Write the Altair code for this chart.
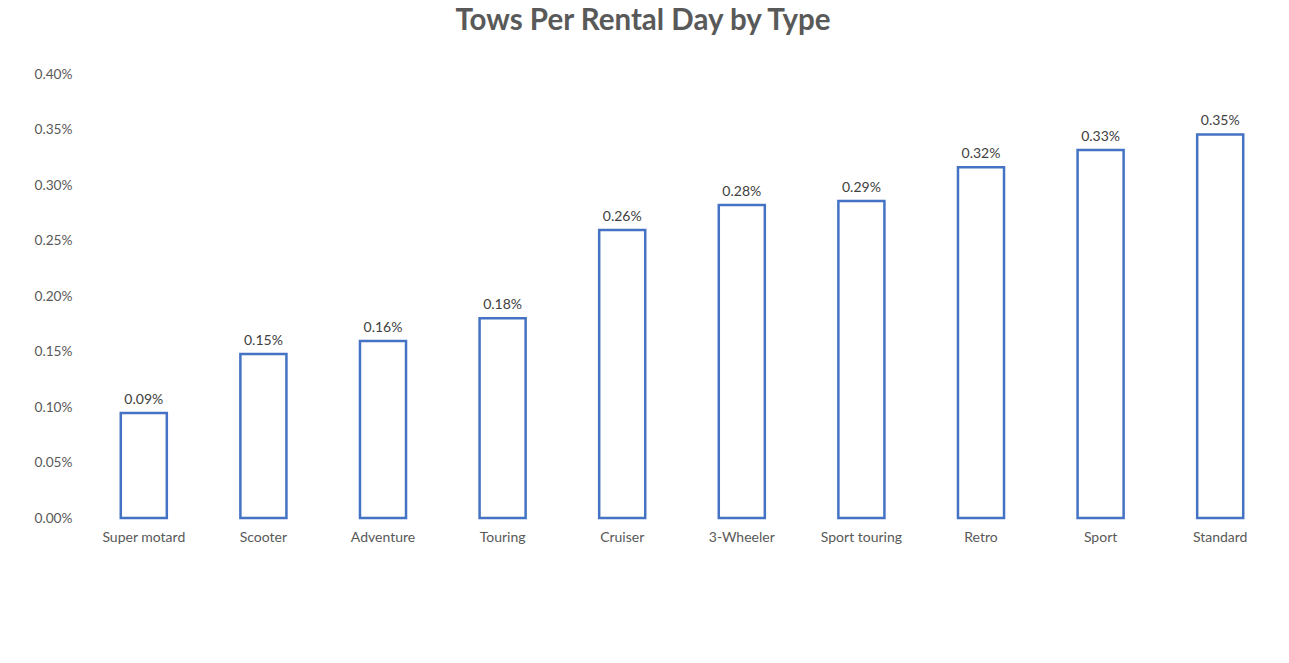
import altair as alt
import pandas as pd

categories = ["Super motard", "Scooter", "Adventure", "Touring", "Cruiser",
              "3-Wheeler", "Sport touring", "Retro", "Sport", "Standard"]
values = [0.000946, 0.001478, 0.001595, 0.00180, 0.002595,
          0.00282, 0.002855, 0.00316, 0.003315, 0.003455]
y_ticks = [0, 0.0005, 0.001, 0.0015, 0.002, 0.0025, 0.003, 0.0035, 0.004]

df = pd.DataFrame({"type": categories, "rate": values})

base = alt.Chart(df).encode(
    x=alt.X("type:N", sort=categories, title=None,
            scale=alt.Scale(paddingInner=0.615, paddingOuter=0.3075),
            axis=alt.Axis(labelAngle=0, domain=False, ticks=False, labelPadding=12,
                          labelFont="Lato", labelFontSize=14, labelColor="#595959")),
    y=alt.Y("rate:Q", title=None,
            scale=alt.Scale(domain=[0, 0.004], nice=False),
            axis=alt.Axis(values=y_ticks, format=".2%", domain=False, ticks=False,
                          grid=False, labelPadding=12, labelFont="Lato",
                          labelFontSize=13.7, labelColor="#595959")),
)

bars = base.mark_bar(fill="white", stroke="#4472C4", strokeWidth=2.5)
labels = base.mark_text(dy=-13, font="Lato", fontSize=14, color="#404040").encode(
    text=alt.Text("rate:Q", format=".2%"))

chart = (bars + labels).properties(
    width=1196, height=444,
    autosize=alt.AutoSizeParams(type="none"),
    padding={"left": 76, "top": 66, "right": 0, "bottom": 120},
    title=alt.TitleParams("Tows Per Rental Day by Type", font="Lato", fontSize=29.5,
                          fontWeight="bold", color="#595959", anchor="middle",
                          offset=31, dx=-39),
).configure_view(stroke=None)

chart.save("out.html", embed_options={"renderer": "svg", "actions": False})
